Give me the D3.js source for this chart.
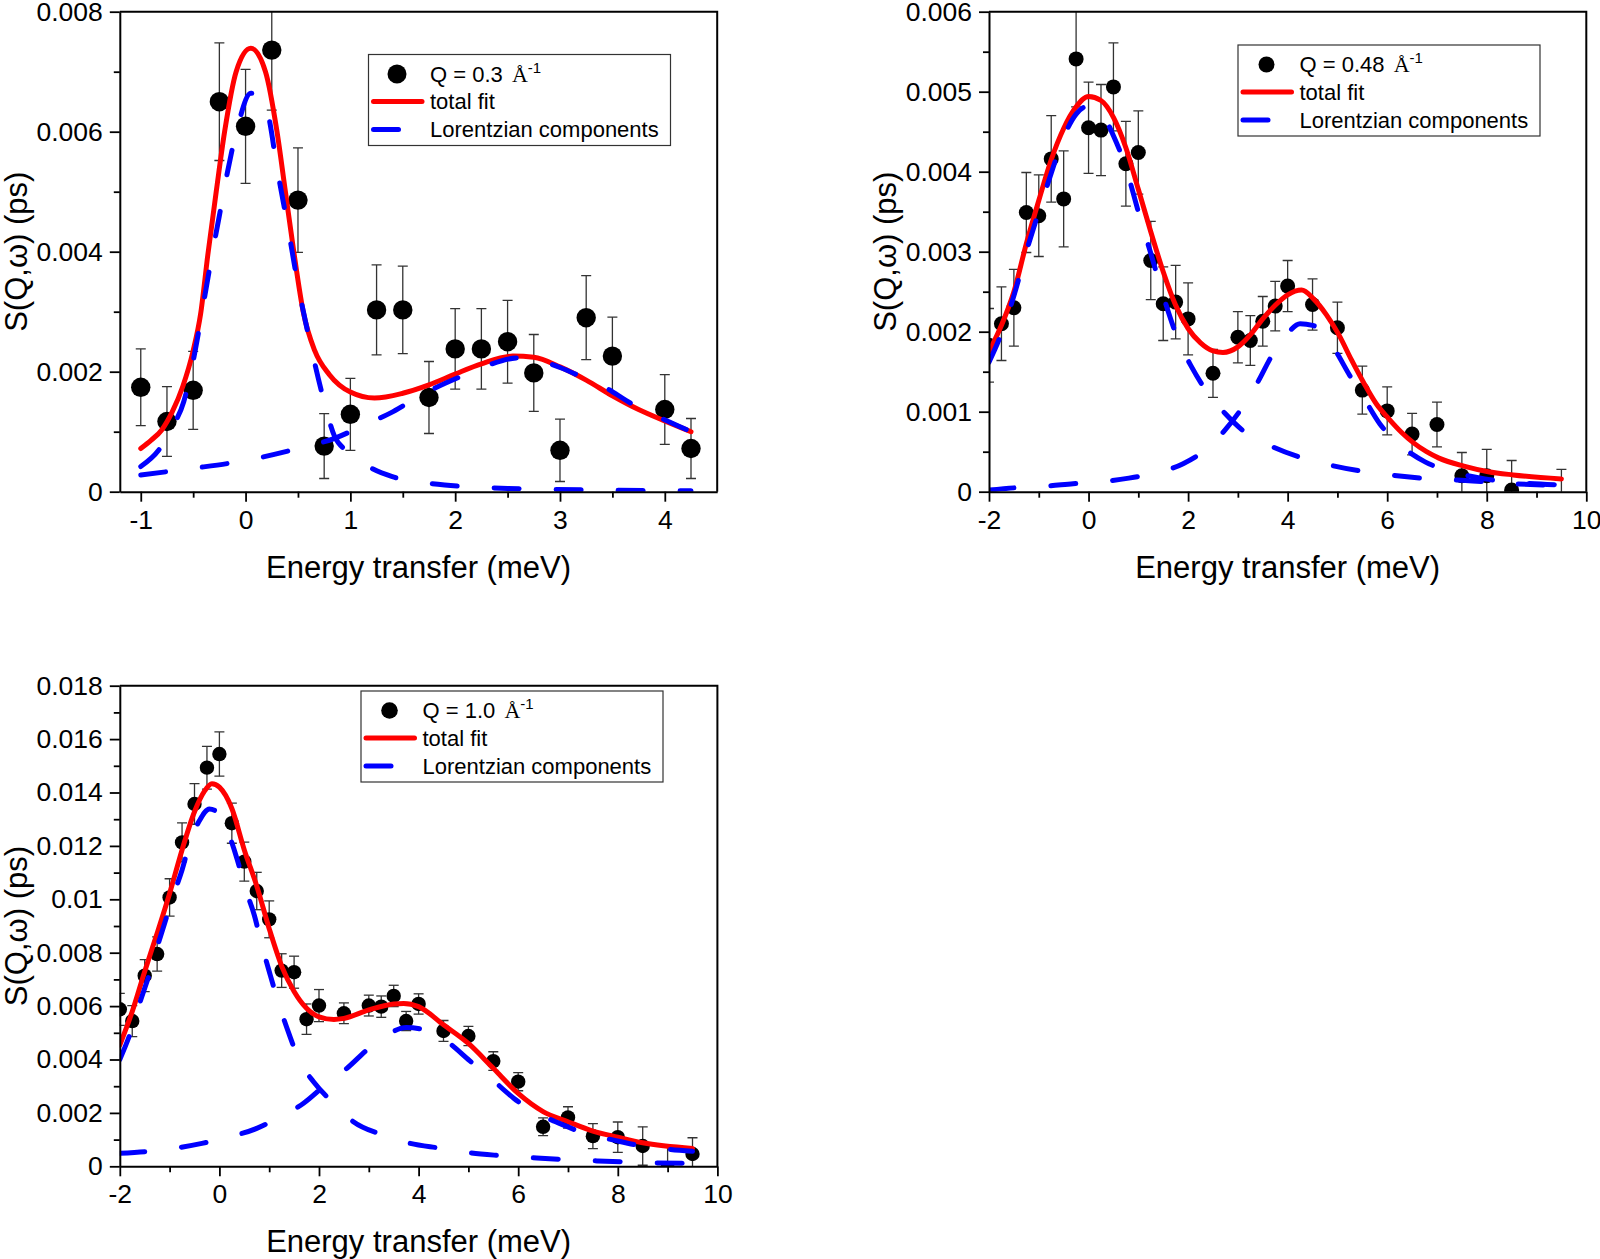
<!DOCTYPE html>
<html>
<head>
<meta charset="utf-8">
<script src="https://cdn.jsdelivr.net/npm/d3@7"></script>
<style>
  body { margin: 0; background: #fff; }
  svg { display: block; }
  text { font-family: "Liberation Sans", Arial, sans-serif; fill: #000; }
</style>
</head>
<body>
<svg id="chart" width="1600" height="1259"></svg>
<script>
// all S(Q,w) values below are in units of 1e-3 ps

// ---- Q = 0.3 A^-1 ----
const q03_x   = [-1,-0.75,-0.5,-0.25,0,0.25,0.5,0.75,1,1.25,1.5,1.75,2,2.25,2.5,2.75,3,3.25,3.5,4,4.25]
const q03_y   = [1.74,1.17,1.69,6.50,6.09,7.36,4.86,0.76,1.29,3.03,3.03,1.57,2.38,2.38,2.50,1.98,0.69,2.90,2.26,1.37,0.72]
const q03_err = [0.64,0.58,0.65,0.98,0.95,1.00,0.87,0.54,0.60,0.75,0.73,0.60,0.67,0.67,0.69,0.64,0.52,0.70,0.65,0.58,0.50]
const q03_fit = [[-1,0.72],[-0.9,0.86],[-0.8,1.03],[-0.7,1.33],[-0.6,1.75],[-0.5,2.35],[-0.43,2.95],[-0.36,3.95],[-0.28,5.0],[-0.2,6.0],[-0.09,7.0],[0.05,7.39],[0.19,7.0],[0.3,6.0],[0.38,5.0],[0.46,4.0],[0.55,3.0],[0.66,2.35],[0.8,1.95],[1.0,1.66],[1.23,1.56],[1.5,1.64],[1.75,1.78],[2.0,1.96],[2.25,2.13],[2.55,2.26],[2.75,2.24],[3.0,2.08],[3.25,1.86],[3.5,1.6],[3.75,1.37],[4.0,1.18],[4.25,1.0]]
const q03_lor1 = [[-1,0.42],[-0.83,0.69],[-0.69,1.1],[-0.59,1.5],[-0.52,2.0],[-0.46,2.55],[-0.4,3.15],[-0.33,3.85],[-0.25,4.6],[-0.17,5.35],[-0.08,6.05],[0.05,6.64],[0.14,6.6],[0.22,6.25],[0.3,5.4],[0.4,4.45],[0.5,3.45],[0.62,2.45],[0.75,1.5],[0.85,0.92],[1.0,0.64],[1.1,0.5],[1.4,0.25],[1.62,0.17],[1.9,0.11],[2.15,0.08],[2.5,0.055],[2.9,0.04],[3.45,0.025],[4.25,0.015]]
const q03_lor2 = [[-1,0.28],[-0.5,0.39],[0,0.52],[0.5,0.72],[0.85,0.89],[1.13,1.11],[1.38,1.31],[1.6,1.53],[1.8,1.72],[2.08,1.94],[2.3,2.1],[2.6,2.23],[2.8,2.19],[3.0,2.07],[3.2,1.92],[3.42,1.75],[3.68,1.47],[3.9,1.28],[4.25,1.0]]
const q03_xTicks = [-1,0,1,2,3,4]
const q03_xMinor = [-0.5,0.5,1.5,2.5,3.5]
const q03_yTicks = [0,2,4,6,8]
const q03_yTickLabels = ["0","0.002","0.004","0.006","0.008"]
const q03_yMinor = [1,3,5,7]

// ---- Q = 0.48 A^-1 ----
const q048_x   = [-2,-1.75,-1.5,-1.25,-1,-0.75,-0.5,-0.25,0,0.25,0.5,0.75,1,1.25,1.5,1.75,2,2.5,3,3.25,3.5,3.75,4,4.5,5,5.5,6,6.5,7,7.5,8,8.5,9.5]
const q048_y   = [1.83,2.10,2.30,3.49,3.45,4.16,3.66,5.41,4.55,4.52,5.06,4.10,4.24,2.89,2.35,2.37,2.16,1.48,1.93,1.89,2.13,2.32,2.57,2.34,2.05,1.27,1.01,0.72,0.84,0.20,0.20,0.02,-0.12]
const q048_err = [0.46,0.46,0.48,0.50,0.51,0.54,0.60,0.60,0.57,0.57,0.55,0.53,0.52,0.49,0.46,0.46,0.45,0.30,0.32,0.31,0.31,0.31,0.32,0.32,0.32,0.30,0.30,0.26,0.28,0.29,0.33,0.37,0.40]
const q048_fit = [[-2,1.75],[-1.75,2.08],[-1.5,2.5],[-1.25,3.1],[-1.0,3.64],[-0.75,4.15],[-0.5,4.54],[-0.25,4.81],[0,4.94],[0.25,4.89],[0.5,4.68],[0.75,4.3],[1.0,3.78],[1.25,3.25],[1.5,2.75],[1.75,2.33],[2.0,2.04],[2.25,1.86],[2.5,1.76],[2.7,1.74],[3.0,1.81],[3.25,1.96],[3.5,2.16],[3.75,2.33],[4.0,2.46],[4.28,2.52],[4.52,2.41],[4.78,2.21],[5.03,1.96],[5.28,1.65],[5.53,1.36],[5.78,1.10],[6.02,0.92],[6.29,0.74],[6.53,0.61],[6.79,0.5],[7.04,0.42],[7.54,0.32],[8.03,0.25],[8.53,0.21],[9.5,0.16]]
const q048_lor1 = [[-2,1.62],[-1.75,1.98],[-1.5,2.45],[-1.25,3.0],[-1.0,3.5],[-0.75,3.98],[-0.5,4.43],[-0.25,4.72],[0,4.82],[0.25,4.74],[0.5,4.45],[0.75,4.05],[1.0,3.5],[1.25,2.98],[1.5,2.45],[1.8,1.9],[2.07,1.56],[2.4,1.23],[2.74,0.98],[3.17,0.73],[3.7,0.56],[4.3,0.42],[4.8,0.34],[5.45,0.26],[6.35,0.19],[7.0,0.155],[7.57,0.14],[8.5,0.1],[9.5,0.075]]
const q048_lor2 = [[-2,0.02],[-1.45,0.05],[-0.83,0.07],[-0.31,0.1],[0.28,0.125],[0.81,0.17],[1.4,0.24],[1.9,0.35],[2.36,0.53],[2.74,0.77],[3.16,1.12],[3.4,1.37],[3.7,1.72],[4.0,1.98],[4.25,2.1],[4.5,2.08],[4.91,1.81],[5.25,1.45],[5.55,1.15],[5.85,0.85],[6.19,0.62],[6.5,0.47],[6.77,0.37],[7.36,0.24],[7.96,0.16],[8.5,0.12],[9.5,0.085]]
const q048_xTicks = [-2,0,2,4,6,8,10]
const q048_xMinor = [-1,1,3,5,7,9]
const q048_yTicks = [0,1,2,3,4,5,6]
const q048_yTickLabels = ["0","0.001","0.002","0.003","0.004","0.005","0.006"]
const q048_yMinor = [0.5,1.5,2.5,3.5,4.5,5.5]

// ---- Q = 1.0 A^-1 ----
const q10_x   = [-2,-1.75,-1.5,-1.25,-1,-0.75,-0.5,-0.25,0,0.25,0.5,0.75,1,1.25,1.5,1.75,2,2.5,3,3.25,3.5,3.75,4,4.5,5,5.5,6,6.5,7,7.5,8,8.5,9,9.5]
const q10_y   = [5.88,5.44,7.14,7.95,10.07,12.13,13.57,14.93,15.44,12.85,11.41,10.31,9.25,7.33,7.27,5.51,6.02,5.73,6.02,5.98,6.38,5.44,6.08,5.07,4.88,3.94,3.17,1.48,1.83,1.13,1.09,0.76,-0.07,0.46]
const q10_err = [0.60,0.58,0.60,0.64,0.70,0.73,0.76,0.80,0.83,0.75,0.73,0.70,0.69,0.63,0.60,0.57,0.60,0.39,0.39,0.40,0.40,0.36,0.38,0.39,0.36,0.35,0.34,0.33,0.40,0.47,0.57,0.72,0.80,0.61]
const q10_fit = [[-2,4.54],[-1.75,5.8],[-1.5,7.3],[-1.25,8.73],[-1.0,10.22],[-0.75,11.85],[-0.5,13.28],[-0.3,14.05],[-0.15,14.33],[0.0,14.2],[0.25,13.4],[0.5,11.85],[0.75,10.5],[1.0,8.9],[1.25,7.5],[1.5,6.55],[1.75,5.92],[2.0,5.6],[2.3,5.5],[2.5,5.54],[3.0,5.86],[3.5,6.08],[3.7,6.1],[4.0,5.98],[4.5,5.3],[5.0,4.6],[5.5,3.67],[6.0,2.73],[6.5,2.05],[7.0,1.67],[7.5,1.32],[8.0,1.09],[8.5,0.88],[9.5,0.67]]
const q10_lor1 = [[-2,4.0],[-1.79,4.98],[-1.59,6.17],[-1.39,7.29],[-1.25,8.2],[-1.05,9.4],[-0.95,10.0],[-0.75,11.1],[-0.58,12.2],[-0.4,12.95],[-0.2,13.38],[0.0,13.2],[0.17,12.53],[0.35,11.54],[0.52,10.41],[0.7,9.41],[0.86,8.23],[1.02,7.17],[1.19,6.1],[1.4,4.95],[1.62,3.9],[1.89,3.17],[2.29,2.36],[2.69,1.67],[3.29,1.17],[3.83,0.86],[4.43,0.68],[4.97,0.52],[5.57,0.41],[6.37,0.31],[7.0,0.25],[7.6,0.2],[8.2,0.16],[8.7,0.13],[9.5,0.11]]
const q10_lor2 = [[-2,0.49],[-1.49,0.55],[-0.92,0.67],[-0.35,0.86],[0.22,1.11],[0.75,1.42],[1.22,1.86],[1.69,2.36],[2.13,3.05],[2.56,3.67],[3.0,4.42],[3.37,4.92],[3.75,5.2],[4.13,5.1],[4.53,4.73],[5.03,3.95],[5.4,3.38],[5.91,2.55],[6.3,2.05],[6.75,1.67],[7.35,1.23],[7.92,0.98],[8.52,0.75],[9.06,0.63],[9.5,0.56]]
const q10_xTicks = [-2,0,2,4,6,8,10]
const q10_xMinor = [-1,1,3,5,7,9]
const q10_yTicks = [0,2,4,6,8,10,12,14,16,18]
const q10_yTickLabels = ["0","0.002","0.004","0.006","0.008","0.01","0.012","0.014","0.016","0.018"]
const q10_yMinor = [1,3,5,7,9,11,13,15,17]

const legendLabels = ["total fit", "Lorentzian components"]

const svg = d3.select("#chart")

function drawPanel(p)
{
    let xScale = d3.scaleLinear().domain(p.xDomain).range([p.left, p.right])
    let yScale = d3.scaleLinear().domain(p.yDomain).range([p.bottom, p.top])

    svg.append("clipPath").attr("id", "clip_" + p.id)
        .append("rect")
        .attr("x", p.left).attr("y", p.top)
        .attr("width", p.right - p.left).attr("height", p.bottom - p.top)

    let plot = svg.append("g").attr("clip-path", `url(#clip_${p.id})`)

    // error bars
    let idx = d3.range(p.x.length)
    let bars = plot.append("g").attr("stroke", "#333").attr("stroke-width", 1.3)
    bars.selectAll(".ebar").data(idx).enter().append("line")
        .attr("x1", i => xScale(p.x[i])).attr("x2", i => xScale(p.x[i]))
        .attr("y1", i => yScale(p.y[i] - p.err[i])).attr("y2", i => yScale(p.y[i] + p.err[i]))
    bars.selectAll(".capTop").data(idx).enter().append("line")
        .attr("x1", i => xScale(p.x[i]) - 5).attr("x2", i => xScale(p.x[i]) + 5)
        .attr("y1", i => yScale(p.y[i] + p.err[i])).attr("y2", i => yScale(p.y[i] + p.err[i]))
    bars.selectAll(".capBot").data(idx).enter().append("line")
        .attr("x1", i => xScale(p.x[i]) - 5).attr("x2", i => xScale(p.x[i]) + 5)
        .attr("y1", i => yScale(p.y[i] - p.err[i])).attr("y2", i => yScale(p.y[i] - p.err[i]))

    // data points
    plot.selectAll(".markers").data(idx).enter().append("circle")
        .attr("cx", i => xScale(p.x[i])).attr("cy", i => yScale(p.y[i]))
        .attr("r", p.r).style("fill", "#000")

    let line = d3.line().x(d => xScale(d[0])).y(d => yScale(d[1])).curve(d3.curveMonotoneX)

    // total fit
    plot.append("path").attr("d", line(p.fit))
        .attr("fill", "none").attr("stroke", "#ff0000").attr("stroke-width", 5)
        .attr("stroke-linecap", "round").attr("stroke-linejoin", "round")
    // lorentzian components
    ;[p.lor1, p.lor2].forEach(c => {
        plot.append("path").attr("d", line(c))
            .attr("fill", "none").attr("stroke", "#0000ff").attr("stroke-width", 5)
            .attr("stroke-dasharray", "25,37").attr("stroke-linecap", "round")
    })

    // axes
    let xAxis = svg.append("g").attr("transform", `translate(0,${p.bottom})`)
        .call(d3.axisBottom(xScale).tickValues(p.xTicks).tickSize(10).tickSizeOuter(0)
              .tickPadding(8).tickFormat(d => String(d)))
    svg.append("g").attr("transform", `translate(0,${p.bottom})`)
        .call(d3.axisBottom(xScale).tickValues(p.xMinor).tickSize(6).tickSizeOuter(0).tickFormat(""))
        .call(g => g.select(".domain").remove())
    let yAxis = svg.append("g").attr("transform", `translate(${p.left},0)`)
        .call(d3.axisLeft(yScale).tickValues(p.yTicks).tickSize(10).tickSizeOuter(0)
              .tickPadding(7).tickFormat((d, i) => p.yTickLabels[i]))
    svg.append("g").attr("transform", `translate(${p.left},0)`)
        .call(d3.axisLeft(yScale).tickValues(p.yMinor).tickSize(6).tickSizeOuter(0).tickFormat(""))
        .call(g => g.select(".domain").remove())

    svg.selectAll(".domain").attr("stroke", "#000").attr("stroke-width", 2)
    svg.selectAll(".tick line").attr("stroke", "#000").attr("stroke-width", 1.8)
    ;[xAxis, yAxis].forEach(a => a.selectAll("text")
        .attr("font-size", 26.5).attr("font-family", '"Liberation Sans", Arial, sans-serif').attr("fill", "#000"))

    // frame top and right
    svg.append("path")
        .attr("d", `M${p.left},${p.top}H${p.right}V${p.bottom}`)
        .attr("fill", "none").attr("stroke", "#000").attr("stroke-width", 2)

    // axis labels
    svg.append("text")
        .attr("x", (p.left + p.right) / 2).attr("y", p.bottom + 86)
        .attr("text-anchor", "middle").attr("font-size", 31)
        .text("Energy transfer (meV)")
    svg.append("text")
        .attr("transform", `translate(${p.left - 104},${(p.top + p.bottom) / 2}) rotate(-90)`)
        .attr("text-anchor", "middle").attr("dy", "0.35em").attr("font-size", 31)
        .text("S(Q,\u03c9) (ps)")

    // legend
    let lg = svg.append("g").attr("transform", `translate(${p.legend[0]},${p.legend[1]})`)
    lg.append("rect").attr("x", 0).attr("y", 0).attr("width", 302).attr("height", 91)
        .attr("fill", "#fff").attr("stroke", "#333").attr("stroke-width", 1.2)
    lg.append("circle").attr("cx", 28.5).attr("cy", 19.5).attr("r", p.legendR).style("fill", "#000")
    let qt = lg.append("text").attr("x", 61.5).attr("y", 19.5).attr("dy", "0.35em").attr("font-size", 22)
    qt.append("tspan").text(`Q = ${p.q} `)
    qt.append("tspan").attr("dx", 3).attr("font-family", '"Liberation Serif", "Times New Roman", serif').text("\u00c5")
    qt.append("tspan").attr("font-size", 15).attr("dy", -9).text("-1")
    lg.append("line").attr("x1", 5).attr("x2", 53.5).attr("y1", 47).attr("y2", 47)
        .attr("stroke", "#ff0000").attr("stroke-width", 5).attr("stroke-linecap", "round")
    lg.append("line").attr("x1", 5).attr("x2", 53.5).attr("y1", 75).attr("y2", 75)
        .attr("stroke", "#0000ff").attr("stroke-width", 5).attr("stroke-linecap", "round")
        .attr("stroke-dasharray", "25,37")
    lg.append("text").attr("x", 61.5).attr("y", 47).attr("dy", "0.35em").attr("font-size", 22).text(legendLabels[0])
    lg.append("text").attr("x", 61.5).attr("y", 75).attr("dy", "0.35em").attr("font-size", 22).text(legendLabels[1])
}

drawPanel({id: "q03", q: "0.3", left: 119.8, right: 717.2, top: 11.7, bottom: 491.7,
    xDomain: [-1.2, 4.5], yDomain: [0, 8], r: 9.7, legendR: 9.5, legend: [368.5, 54.5],
    x: q03_x, y: q03_y, err: q03_err, fit: q03_fit, lor1: q03_lor1, lor2: q03_lor2,
    xTicks: q03_xTicks, xMinor: q03_xMinor, yTicks: q03_yTicks, yTickLabels: q03_yTickLabels, yMinor: q03_yMinor})

drawPanel({id: "q048", q: "0.48", left: 989, right: 1586.3, top: 11.7, bottom: 491.7,
    xDomain: [-2, 10], yDomain: [0, 6], r: 7.5, legendR: 8, legend: [1238, 45],
    x: q048_x, y: q048_y, err: q048_err, fit: q048_fit, lor1: q048_lor1, lor2: q048_lor2,
    xTicks: q048_xTicks, xMinor: q048_xMinor, yTicks: q048_yTicks, yTickLabels: q048_yTickLabels, yMinor: q048_yMinor})

drawPanel({id: "q10", q: "1.0", left: 119.8, right: 717.4, top: 685.7, bottom: 1166.3,
    xDomain: [-2, 10], yDomain: [0, 18], r: 7.2, legendR: 8.3, legend: [361, 691],
    x: q10_x, y: q10_y, err: q10_err, fit: q10_fit, lor1: q10_lor1, lor2: q10_lor2,
    xTicks: q10_xTicks, xMinor: q10_xMinor, yTicks: q10_yTicks, yTickLabels: q10_yTickLabels, yMinor: q10_yMinor})
</script>
</body>
</html>
